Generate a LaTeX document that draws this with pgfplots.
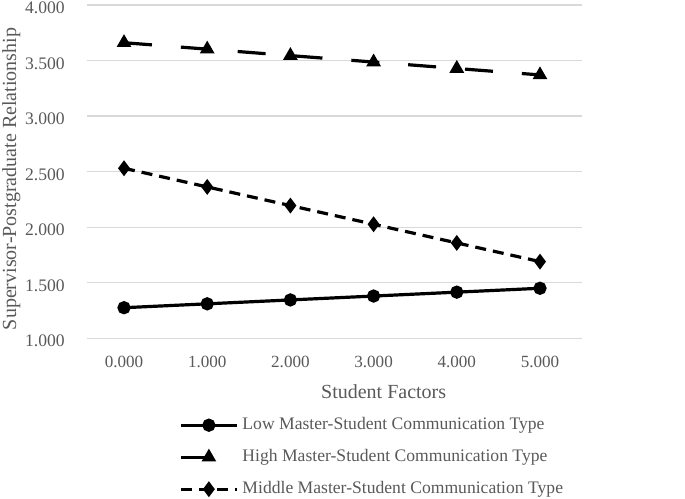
\documentclass[border=0pt]{standalone}
\usepackage{fontspec}
\setmainfont{Liberation Serif}
\usepackage{pgfplots}
\pgfplotsset{compat=1.18}
\definecolor{txt}{HTML}{595959}
\definecolor{grd}{HTML}{D9D9D9}
\begin{document}
\begin{tikzpicture}
\path[use as bounding box] (-65.25pt,-120.5pt) rectangle (448.5pt,253.7pt);
\begin{axis}[
  at={(0,0)}, anchor=south west,
  width=371.25pt, height=250pt, scale only axis,
  xmin=-0.445, xmax=5.505, ymin=1, ymax=4,
  xtick={0,1,2,3,4,5}, ytick={1,1.5,2,2.5,3,3.5,4},
  axis line style={draw=none},
  major tick length=0pt,
  ymajorgrids, grid style={grd, line width=0.9pt},
  /pgf/number format/.cd, fixed, fixed zerofill, precision=3, 1000 sep={}, assume math mode=true,
  /pgfplots/.cd,
  tick label style={txt},
  yticklabel style={anchor=east, inner sep=0pt, xshift=-16.5pt, yshift=-2.25pt, font=\fontsize{13.2}{15}\selectfont},
  xticklabel style={anchor=north, inner sep=0pt, yshift=-13.5pt, font=\fontsize{12.8}{15}\selectfont},
  xlabel={Student Factors},
  ylabel={Supervisor-Postgraduate Relationship},
  label style={txt, font=\fontsize{15}{17}\selectfont},
  x label style={at={(axis description cs:0.5993,0)}, anchor=base, yshift=-44.8pt},
  y label style={at={(axis description cs:-0.1434,0.478)}, anchor=base, rotate=0},
  legend image code/.code={\draw[mark repeat=2,mark phase=2,#1] plot coordinates {(0pt,0pt) (21pt,0pt) (42pt,0pt)};},
  legend cell align=left,
  legend style={at={(axis description cs:0.1859,-0.236)}, anchor=north west, draw=none, fill=none,
    inner sep=0pt, row sep=12pt, text=txt, font=\fontsize{13.2}{15}\selectfont,
    nodes={inner sep=0pt, text height=9pt, text depth=3pt},
    column sep=0pt},
]
\addplot[black, line width=2.4pt, mark=*, mark size=3.75pt, mark options={solid}]
  coordinates {(0,1.275) (1,1.310) (2,1.345) (3,1.380) (4,1.415) (5,1.450)};
\addlegendentry{\hspace{3pt}Low Master-Student Communication Type}
\addplot[black, line width=2.4pt, dash pattern=on 21pt off 21.75pt, mark=triangle*, mark size=4pt, mark options={solid}]
  coordinates {(0,3.660) (1,3.602) (2,3.544) (3,3.486) (4,3.428) (5,3.370)};
\addlegendentry{\hspace{3pt}High Master-Student Communication Type}
\addplot[black, line width=2.4pt, dash pattern=on 8.25pt off 5.25pt, mark=diamond*, mark size=4pt, mark options={solid}]
  coordinates {(0,2.530) (1,2.362) (2,2.194) (3,2.026) (4,1.858) (5,1.690)};
\addlegendentry{\hspace{3pt}Middle Master-Student Communication Type}
\end{axis}
\end{tikzpicture}
\end{document}
